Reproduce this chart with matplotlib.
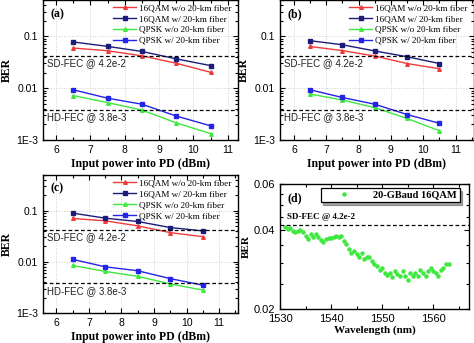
"""Four-panel BER figure: BER vs. PD input power (a-c) and BER vs. wavelength (d)."""

import matplotlib

matplotlib.use("Agg")
import matplotlib.pyplot as plt
from matplotlib.ticker import FixedLocator, LogLocator, MultipleLocator, NullFormatter

SANS = "Liberation Sans"
SERIF = "Liberation Serif"

# --- data -----------------------------------------------------------------
power_dbm = [6.5, 7.5, 8.5, 9.5, 10.5]
series_labels = [
    "16QAM w/o 20-km fiber",
    "16QAM w/ 20-km fiber",
    "QPSK w/o 20-km fiber",
    "QPSK w/ 20-km fiber",
]

ber_a_16qam_wo = [0.0593, 0.0526, 0.0420, 0.0302, 0.0202]
ber_a_16qam_w = [0.0776, 0.0638, 0.0510, 0.0367, 0.0272]
ber_a_qpsk_wo = [0.0072, 0.00526, 0.00378, 0.00214, 0.00133]
ber_a_qpsk_w = [0.0093, 0.0064, 0.0049, 0.0029, 0.00188]

ber_b_16qam_wo = [0.0635, 0.0529, 0.0416, 0.0298, 0.0237]
ber_b_16qam_w = [0.0821, 0.0685, 0.0521, 0.0403, 0.0298]
ber_b_qpsk_wo = [0.0077, 0.0059, 0.0042, 0.0026, 0.00151]
ber_b_qpsk_w = [0.0093, 0.0066, 0.0049, 0.0031, 0.0021]

ber_c_16qam_wo = [0.0706, 0.0635, 0.0506, 0.0373, 0.0311]
ber_c_16qam_w = [0.0899, 0.0716, 0.0616, 0.0469, 0.0403]
ber_c_qpsk_wo = [0.0085, 0.0065, 0.0052, 0.0037, 0.0028]
ber_c_qpsk_w = [0.0112, 0.0080, 0.0067, 0.0047, 0.0035]

wavelength_nm = [
    1531.0, 1531.5, 1532.0, 1532.5, 1533.0, 1533.5, 1534.0, 1534.5, 1535.0, 1535.5,
    1536.0, 1536.5, 1537.0, 1537.5, 1538.0, 1538.5, 1539.0, 1539.5, 1540.0, 1540.5,
    1541.0, 1541.5, 1542.0, 1542.5, 1543.0, 1543.5, 1544.0, 1544.5, 1545.0, 1545.5,
    1546.0, 1546.5, 1547.0, 1547.5, 1548.0, 1548.5, 1549.0, 1549.5, 1550.0, 1550.5,
    1551.0, 1551.5, 1552.0, 1552.5, 1553.0, 1553.5, 1554.0, 1554.5, 1555.0, 1555.5,
    1556.0, 1556.5, 1557.0, 1557.5, 1558.0, 1558.5, 1559.0, 1559.5, 1560.0, 1560.5,
    1561.0, 1561.5, 1562.0, 1562.5, 1563.0,
]
ber_d = [
    0.0410, 0.0404, 0.0407, 0.0398, 0.0392, 0.0398, 0.0400, 0.0392, 0.0380, 0.0369,
    0.0386, 0.0378, 0.0386, 0.0375, 0.0366, 0.0361, 0.0369, 0.0374, 0.0372, 0.0377,
    0.0380, 0.0375, 0.0380, 0.0364, 0.0354, 0.0339, 0.0328, 0.0333, 0.0324, 0.0317,
    0.0328, 0.0311, 0.0317, 0.0317, 0.0305, 0.0298, 0.0291, 0.0283, 0.0287, 0.0275,
    0.0269, 0.0275, 0.0265, 0.0279, 0.0273, 0.0267, 0.0279, 0.0267, 0.0257, 0.0275,
    0.0267, 0.0275, 0.0267, 0.0283, 0.0275, 0.0267, 0.0279, 0.0287, 0.0279, 0.0275,
    0.0267, 0.0283, 0.0287, 0.0296, 0.0296,
]

sd_fec = 4.2e-2
hd_fec = 3.8e-3

# --- styling --------------------------------------------------------------
series_styles = [
    dict(color="#ee3b3b", marker="^"),
    dict(color="#1c1c7a", marker="s"),
    dict(color="#3ee83e", marker="^"),
    dict(color="#2424e6", marker="s"),
]


def style_ticks(ax, labelsize=7.5):
    ax.tick_params(which="both", direction="in", top=True, right=True, width=0.8)
    ax.tick_params(which="major", length=3.5, labelsize=labelsize)
    ax.tick_params(which="minor", length=2)
    for spine in ax.spines.values():
        spine.set_linewidth(1.0)
    for lbl in ax.get_xticklabels() + ax.get_yticklabels():
        lbl.set_fontfamily(SANS)


def draw_power_panel(ax, series, xlim, tag):
    for values, label, style in zip(series, series_labels, series_styles):
        ax.plot(power_dbm, values, lw=1.0, ms=2.6, label=label, **style)

    ax.set_yscale("log")
    ax.set_ylim(1e-3, 0.5)
    ax.set_xlim(*xlim)
    ax.xaxis.set_major_locator(MultipleLocator(1))
    ax.xaxis.set_minor_locator(MultipleLocator(0.5))
    ax.yaxis.set_minor_locator(LogLocator(base=10, subs=range(2, 10)))
    ax.yaxis.set_minor_formatter(NullFormatter())
    ax.set_yticks([1e-3, 1e-2, 1e-1], ["1E-3", "0.01", "0.1"])
    ax.grid(True, which="major", color="#d0d0d0", linestyle=":", linewidth=0.7)

    for level, text in [(sd_fec, "SD-FEC @ 4.2e-2"), (hd_fec, "HD-FEC @ 3.8e-3")]:
        ax.axhline(level, color="black", linestyle="--", lw=0.9, dashes=(3, 2))
        ax.text(0.02, level * 0.9, text, transform=ax.get_yaxis_transform(),
                fontsize=7, fontfamily=SANS, va="top", ha="left", color="#222222")

    ax.text(0.04, 0.88, tag, transform=ax.transAxes, fontsize=8.5,
            fontweight="bold", fontfamily=SERIF)
    ax.legend(loc="upper right", bbox_to_anchor=(1.0, 1.02), frameon=False,
              prop={"family": SERIF, "size": 6.6}, handlelength=2.6,
              handletextpad=0.3, labelspacing=0.28, borderpad=0.2)
    ax.set_xlabel("Input power into PD (dBm)", fontsize=8.5, fontweight="bold",
                  fontfamily=SERIF, labelpad=2)
    ax.set_ylabel("BER", fontsize=8.5, fontweight="bold", fontfamily=SERIF, labelpad=2)
    style_ticks(ax)


fig = plt.figure(figsize=(4.74, 3.43), dpi=100)

ax_a = fig.add_axes([0.0907, 0.5918, 0.4114, 0.4082])
ax_b = fig.add_axes([0.5907, 0.5918, 0.4093, 0.4082])
ax_c = fig.add_axes([0.0907, 0.0875, 0.4114, 0.4023])
ax_d = fig.add_axes([0.5907, 0.0991, 0.3987, 0.3644])

draw_power_panel(ax_a, [ber_a_16qam_wo, ber_a_16qam_w, ber_a_qpsk_wo, ber_a_qpsk_w],
                 (5.62, 11.3), "(a)")
draw_power_panel(ax_b, [ber_b_16qam_wo, ber_b_16qam_w, ber_b_qpsk_wo, ber_b_qpsk_w],
                 (5.57, 11.57), "(b)")
draw_power_panel(ax_c, [ber_c_16qam_wo, ber_c_16qam_w, ber_c_qpsk_wo, ber_c_qpsk_w],
                 (5.59, 11.58), "(c)")

# panel (d)
ax_d.plot(wavelength_nm, ber_d, linestyle="none", marker="o", ms=2.2,
          color="#3ee83e", label="20-GBaud 16QAM")
ax_d.set_yscale("log")
ax_d.set_ylim(0.02, 0.06)
ax_d.set_xlim(1530, 1567)
ax_d.xaxis.set_major_locator(MultipleLocator(10))
ax_d.xaxis.set_minor_locator(MultipleLocator(5))
ax_d.yaxis.set_minor_locator(FixedLocator([0.025, 0.03, 0.035, 0.045, 0.05, 0.055]))
ax_d.yaxis.set_minor_formatter(NullFormatter())
ax_d.set_yticks([0.02, 0.04, 0.06], ["0.02", "0.04", "0.06"])
ax_d.axhline(sd_fec, color="black", linestyle="--", lw=0.9, dashes=(3, 2))
ax_d.text(1531.3, sd_fec * 1.03, "SD-FEC @ 4.2e-2", fontsize=6.5, fontweight="bold",
          fontfamily=SERIF, va="bottom")
ax_d.text(0.04, 0.86, "(d)", transform=ax_d.transAxes, fontsize=8.5,
          fontweight="bold", fontfamily=SERIF)
leg = ax_d.legend(loc="upper right", bbox_to_anchor=(0.95, 0.97), frameon=True,
                  fancybox=False, shadow=True,
                  prop={"family": SERIF, "size": 7.5, "weight": "bold"},
                  handlelength=4.0, borderpad=0.25, borderaxespad=0)
leg.get_frame().set_edgecolor("black")
leg.get_frame().set_linewidth(0.9)
ax_d.set_xlabel("Wavelength (nm)", fontsize=8, fontweight="bold", fontfamily=SERIF,
                labelpad=1)
ax_d.set_ylabel("BER", fontsize=8, fontweight="bold", fontfamily=SERIF, labelpad=2)
style_ticks(ax_d, labelsize=8)

fig.savefig("out.png", dpi=100)
